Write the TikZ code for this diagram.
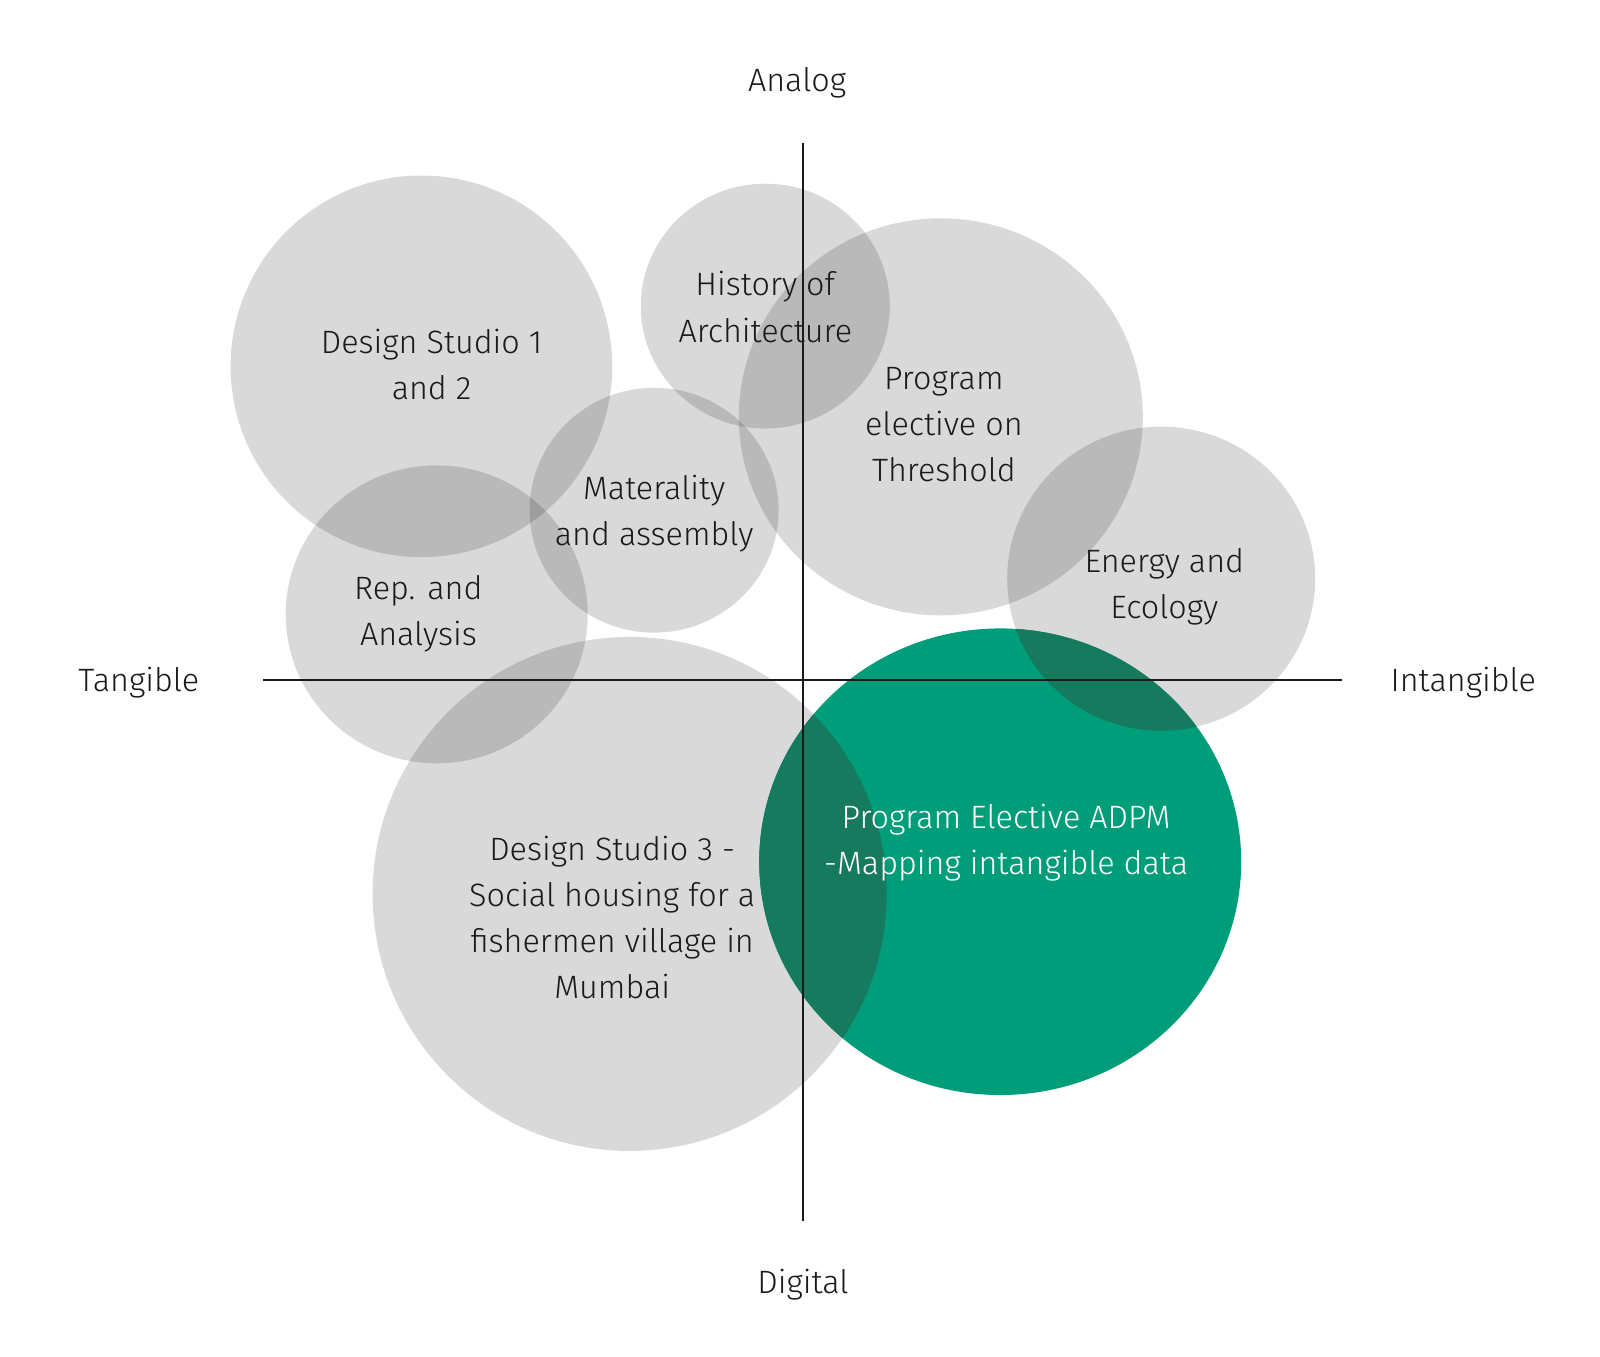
\documentclass[tikz,border=0pt]{standalone}
\usepackage{fontspec}
\setmainfont{Fira Sans Light}
\definecolor{adpmgreen}{RGB}{0,157,122}
\definecolor{overlapgreen}{RGB}{22,123,94}
\definecolor{inkgray}{RGB}{26,26,26}

\begin{document}
\begin{tikzpicture}[x=0.01cm, y=-0.01cm,
	every node/.style={font=\fontsize{9.2}{13.1}\selectfont, align=center, text=inkgray},
	course/.style={fill=black, fill opacity=0.15},
	axis/.style={draw=inkgray, line width=0.5pt}]
	\useasboundingbox (0,0) rectangle (1600,1356);
	% highlighted elective
	\fill[adpmgreen] (1000.2,861.7) ellipse (241 and 233.3);
	% the other courses
	\fill[course] (421.4,366.3) ellipse (190.8 and 190.8);
	\fill[course] (765.3,306.1) ellipse (124.5 and 122.4);
	\fill[course] (940.8,416.8) ellipse (202 and 198.5);
	\fill[course] (654.1,510.2) ellipse (124.5 and 122.4);
	\fill[course] (436.7,614.3) ellipse (151 and 149);
	\fill[course] (1161.2,578.6) ellipse (154 and 152);
	\fill[course] (629.6,893.9) ellipse (257 and 257);
	% where they cross the green one
	\begin{scope}
		\clip (1000.2,861.7) ellipse (241 and 233.3);
		\fill[overlapgreen] (1161.2,578.6) ellipse (154 and 152);
		\fill[overlapgreen] (629.6,893.9) ellipse (257 and 257);
	\end{scope}
	% axes
	\coordinate (top) at (803.1,142.9);
	\coordinate (bottom) at (803.1,1221.4);
	\coordinate (left) at (263.3,679.6);
	\coordinate (right) at (1341.8,679.6);
	\draw[axis] (top) -- (bottom);
	\draw[axis] (left) -- (right);
	\node (analog) at (797,83) {Analog};
	\node (digital) at (803,1284.5) {Digital};
	\node (tangible) at (138.8,682.3) {Tangible};
	\node (intangible) at (1463.3,682.3) {Intangible};
	% course labels
	\node (studio12) at (431.6,364.8) {Design Studio 1\\and 2};
	\node (history) at (765.3,307) {History of\\Architecture};
	\node (threshold) at (943.9,425) {Program\\elective on\\Threshold};
	\node (materiality) at (654.1,514) {Materality\\and assembly};
	\node (rep) at (418.4,613.5) {Rep. and\\Analysis};
	\node (energy) at (1164.3,586.4) {Energy and\\Ecology};
	\node (studio3) at (612.2,917.5) {Design Studio 3 -\\Social housing for a\\fishermen village in\\Mumbai};
	\node[text=white] (adpm) at (1006.1,842.5) {Program Elective ADPM\\-Mapping intangible data};
\end{tikzpicture}
\end{document}
